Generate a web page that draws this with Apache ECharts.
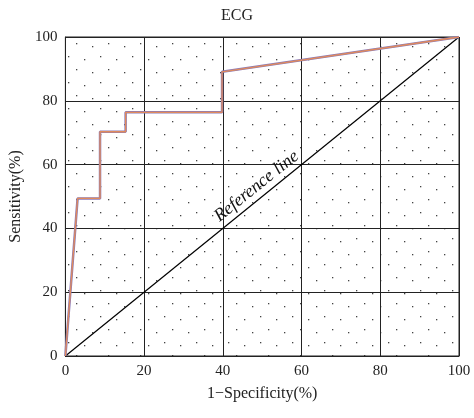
<!DOCTYPE html><html><head><meta charset="utf-8"><script src="https://cdn.jsdelivr.net/npm/echarts@6/dist/echarts.min.js"></script></head><body style="margin:0"><div id="c" style="width:474px;height:418px"></div><script>
const rocX=[0,3.1,8.8,8.8,15.3,15.3,39.8,39.8,100];
const rocY=[0,49.4,49.4,70.3,70.3,76.4,76.4,89.1,100];
const refX=[0,100], refY=[0,100];
const cv=document.createElement('canvas');cv.width=32;cv.height=26;const g=cv.getContext('2d');g.fillStyle='#444';
[[4,4],[20,7],[12,17],[28,20]].forEach(p=>g.fillRect(p[0],p[1],1.3,1.3));
const f='Liberation Serif';
const ch=echarts.init(document.getElementById('c'));
ch.setOption({animation:false,
title:{text:'ECG',left:'center',top:3,textStyle:{fontFamily:f,fontWeight:'normal',fontSize:16,color:'#222'}},
grid:{left:60,right:15,top:37,bottom:62,show:true,backgroundColor:{image:cv,repeat:'repeat'},borderColor:'#222',borderWidth:1},
xAxis:{type:'value',min:0,max:100,interval:20,name:'1\u2212Specificity(%)',nameLocation:'middle',nameGap:30,nameTextStyle:{fontFamily:f,fontSize:16,color:'#222'},axisLabel:{fontFamily:f,fontSize:15,color:'#222'},axisLine:{lineStyle:{color:'#222'}},axisTick:{inside:true,lineStyle:{color:'#222'}},splitLine:{lineStyle:{color:'#222',width:1}}},
yAxis:{type:'value',min:0,max:100,interval:20,name:'Sensitivity(%)',nameLocation:'middle',nameGap:38,nameTextStyle:{fontFamily:f,fontSize:16,color:'#222'},axisLabel:{fontFamily:f,fontSize:15,color:'#222'},axisLine:{lineStyle:{color:'#222'}},axisTick:{inside:true,lineStyle:{color:'#222'}},splitLine:{lineStyle:{color:'#222',width:1}}},
series:[
{type:'line',data:refX.map((x,i)=>[x,refY[i]]),symbol:'none',lineStyle:{color:'#000',width:1.2}},
{type:'line',data:rocX.map((x,i)=>[x,rocY[i]]),symbol:'none',lineStyle:{color:'#8a7ab8',width:2.5}},
{type:'line',data:rocX.map((x,i)=>[x,rocY[i]]),symbol:'none',lineStyle:{color:'#e08a5c',width:1.3}}
]});
const p=ch.convertToPixel({gridIndex:0},[50,51]);
ch.setOption({graphic:[{type:'text',x:p[0],y:p[1],rotation:Math.atan2(319,399),style:{text:'Reference line',fontFamily:f,fontStyle:'italic',fontSize:18,fill:'#111',align:'center',verticalAlign:'bottom'}}]});
</script></body></html>
